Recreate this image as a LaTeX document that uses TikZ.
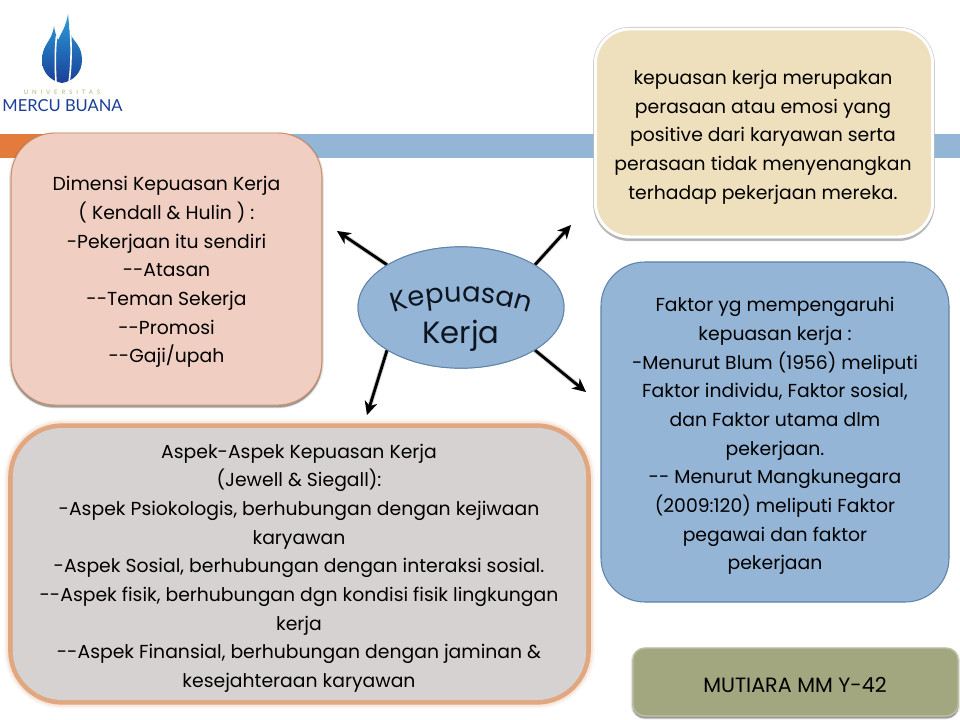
\documentclass[tikz,border=0pt]{standalone}
\usepackage{fontspec}
\setmainfont{Poppins}
\newfontfamily\logofont{Lato}
\usetikzlibrary{arrows.meta,shapes.geometric,shadows,decorations.text}
\definecolor{bannerblue}{HTML}{94B6D6}
\definecolor{bannerorange}{HTML}{E27B3C}
\definecolor{pinkfill}{HTML}{F0CEC1}
\definecolor{pinkline}{HTML}{D08C62}
\definecolor{beigefill}{HTML}{EEDFBD}
\definecolor{bluefill}{HTML}{94B5D6}
\definecolor{blueline}{HTML}{5F84AA}
\definecolor{greyfill}{HTML}{D5D2D1}
\definecolor{glowcol}{HTML}{D98F5E}
\definecolor{olivefill}{HTML}{A3A77F}
\definecolor{inkdark}{HTML}{0C1520}
\definecolor{logotop}{HTML}{2A9FDC}
\definecolor{logobot}{HTML}{1B3F96}
\definecolor{logogreen}{HTML}{A9BE78}
\tikzset{
  boxtext/.style={align=center,inner sep=0pt,text=black,font=\fontsize{14.1pt}{21.5pt}\selectfont},
  softshadow/.style={general shadow={shadow xshift=0pt,shadow yshift=-1pt,fill=black,opacity=.10,draw=black,line width=3pt},
                     general shadow={shadow xshift=0pt,shadow yshift=-1.5pt,fill=black,opacity=.2,draw=black,line width=1pt}},
  pinkbox/.style={softshadow,rectangle,rounded corners=33pt,draw=pinkline,line width=.7pt,fill=pinkfill,minimum width=233pt,minimum height=204pt},
  beigebox/.style={general shadow={shadow xshift=0pt,shadow yshift=-1.6pt,fill=black,opacity=.28,draw=black,line width=3pt},
    preaction={draw=black!25,line width=3pt},
    rectangle,rounded corners=26pt,draw=white,line width=2.2pt,fill=beigefill,minimum width=253pt,minimum height=156pt},
  bluebox/.style={rectangle,rounded corners=33pt,draw=blueline,line width=.8pt,fill=bluefill,minimum width=261pt,minimum height=255pt},
  greybox/.style={rectangle,rounded corners=37pt,fill=greyfill,minimum width=430pt,minimum height=204pt,
    preaction={draw=glowcol,opacity=.08,line width=13pt},
    preaction={draw=glowcol,opacity=.15,line width=10pt},
    preaction={draw=glowcol,opacity=.72,line width=7pt}},
  olivebox/.style={softshadow,rectangle,rounded corners=9pt,fill=olivefill,draw=olivefill!70!white,line width=1pt,minimum width=244pt,minimum height=51pt},
  hub/.style={ellipse,fill=bluefill,draw=blueline,line width=.7pt,minimum width=154.5pt,minimum height=91pt,inner sep=0pt},
  spoke/.style={-{Stealth[length=10pt,width=9.5pt,inset=3pt]},line width=2.1pt,draw=black,preaction={draw=black!40,line width=3.4pt,opacity=.5}}
}
\begin{document}
\begin{tikzpicture}[x=0.75pt,y=-0.75pt]
\useasboundingbox (0,0) rectangle (960,720);
\fill[white] (0,0) rectangle (960,720);
% banner
\fill[bannerblue] (0,134) rectangle (960,158);
\fill[bannerorange] (0,134) rectangle (48,158);
% logo
\path[shade,top color=logotop,bottom color=logobot]
  (62,83) .. controls (50,81) and (42,72) .. (42,60)
  .. controls (42,44) and (52,42) .. (54,26)
  .. controls (55,32) and (56,36) .. (58,40)
  .. controls (62,32) and (66,26) .. (68,14)
  .. controls (69,22) and (69,30) .. (71,35)
  .. controls (74,42) and (82,46) .. (82,60)
  .. controls (82,72) and (74,81) .. (62,83) -- cycle;
\draw[white,line width=1.2pt] (56.5,36) .. controls (55,50) and (55,68) .. (56,82);
\draw[white,line width=1.2pt] (70,26) .. controls (72,50) and (71,68) .. (69,83);
\node[font=\logofont\fontsize{4.6pt}{5pt}\selectfont\addfontfeature{LetterSpace=62},text=logogreen,inner sep=0pt] (univ) at (62,92) {UNIVERSITAS};
\node[font=\logofont\fontsize{12.4pt}{16pt}\selectfont,text=logobot,inner sep=0pt] (mercu) at (62.5,106) {MERCU BUANA};
% hub and spokes
\node[hub] (hubnode) at (461,307.5) {};
\coordinate (endA) at (337,231);
\coordinate (endB) at (571,225);
\coordinate (endC) at (367,415);
\coordinate (endD) at (586,392);
\draw[spoke] (hubnode.150) -- (endA);
\draw[spoke] (hubnode.30) -- (endB);
\draw[spoke] (hubnode.210) -- (endC);
\draw[spoke] (hubnode.330) -- (endD);
\node[hub] (hubtop) at (461,307.5) {};
\path[decorate,decoration={text along path,text align=center,
  text={|\fontsize{20.5pt}{24pt}\selectfont\color{inkdark}|Kepuasan}}]
  (384,316) .. controls (430,297) and (495,297) .. (539,317);
\node[font=\fontsize{23pt}{26pt}\selectfont,text=inkdark,inner sep=0pt] (kerja) at (461,336) {Kerja};
% boxes
\node[pinkbox] (dimbox) at (166.5,269) {};
\node[boxtext] (dimtext) at (166.5,272) {Dimensi Kepuasan Kerja\\( Kendall \& Hulin ) :\\-Pekerjaan itu sendiri\\{-}{-}Atasan\\{-}{-}Teman Sekerja\\{-}{-}Promosi\\{-}{-}Gaji/upah};
\node[beigebox] (defbox) at (764,133) {};
\node[boxtext] (deftext) at (763,137) {kepuasan kerja merupakan\\perasaan atau emosi yang\\positive dari karyawan serta\\perasaan tidak menyenangkan\\terhadap pekerjaan mereka.};
\node[bluebox] (fakbox) at (775,432) {};
\node[boxtext] (faktext) at (775,436) {Faktor yg mempengaruhi\\kepuasan kerja :\\-Menurut Blum (1956) meliputi\\Faktor individu, Faktor sosial,\\dan Faktor utama dlm\\pekerjaan.\\{-}{-} Menurut Mangkunegara\\(2009:120) meliputi Faktor\\pegawai dan faktor\\pekerjaan};
\node[greybox] (aspbox) at (299.5,564) {};
\node[boxtext] (asptext) at (299,568) {Aspek-Aspek Kepuasan Kerja\\(Jewell \& Siegall):\\-Aspek Psiokologis, berhubungan dengan kejiwaan\\karyawan\\-Aspek Sosial, berhubungan dengan interaksi sosial.\\{-}{-}Aspek fisik, berhubungan dgn kondisi fisik lingkungan\\kerja\\{-}{-}Aspek Finansial, berhubungan dengan jaminan \&\\kesejahteraan karyawan};
\node[olivebox] (mutbox) at (795.5,682) {};
\node[boxtext,font=\fontsize{15.5pt}{18pt}\selectfont] (muttext) at (795,685) {MUTIARA MM Y-42};
\end{tikzpicture}
\end{document}
